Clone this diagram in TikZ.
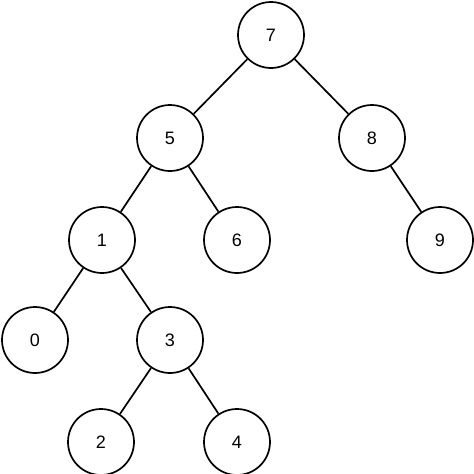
\documentclass[tikz,border=0pt]{standalone}
\usepackage{fontspec}
\setmainfont{Liberation Sans}

\begin{document}
\begin{tikzpicture}
[nodedecorate/.style={shape=circle,minimum size=66pt,inner sep=0pt,draw,line width=1.7pt,font=\fontsize{18}{18}\selectfont},%
  linedecorate/.style={-,line width=1.7pt},%
  x=1pt,y=-1pt]
\useasboundingbox (0,0) rectangle (474,474);
%% nodes or vertices
\foreach \nodename/\x/\y in {7/271/35, 5/170/138, 8/372/138,
  1/102/240, 6/237/240, 9/440/240, 0/35/340, 3/170/340,
  2/101/442, 4/237/442}
{
  \node (n\nodename) at (\x,\y) [nodedecorate] {\nodename};
}
%% edges or lines
\path
\foreach \startnode/\endnode in {7/5, 7/8, 5/1, 5/6, 8/9,
  1/0, 1/3, 3/2, 3/4}
{
  (n\startnode) edge[linedecorate] (n\endnode)
};
\end{tikzpicture}
\end{document}
